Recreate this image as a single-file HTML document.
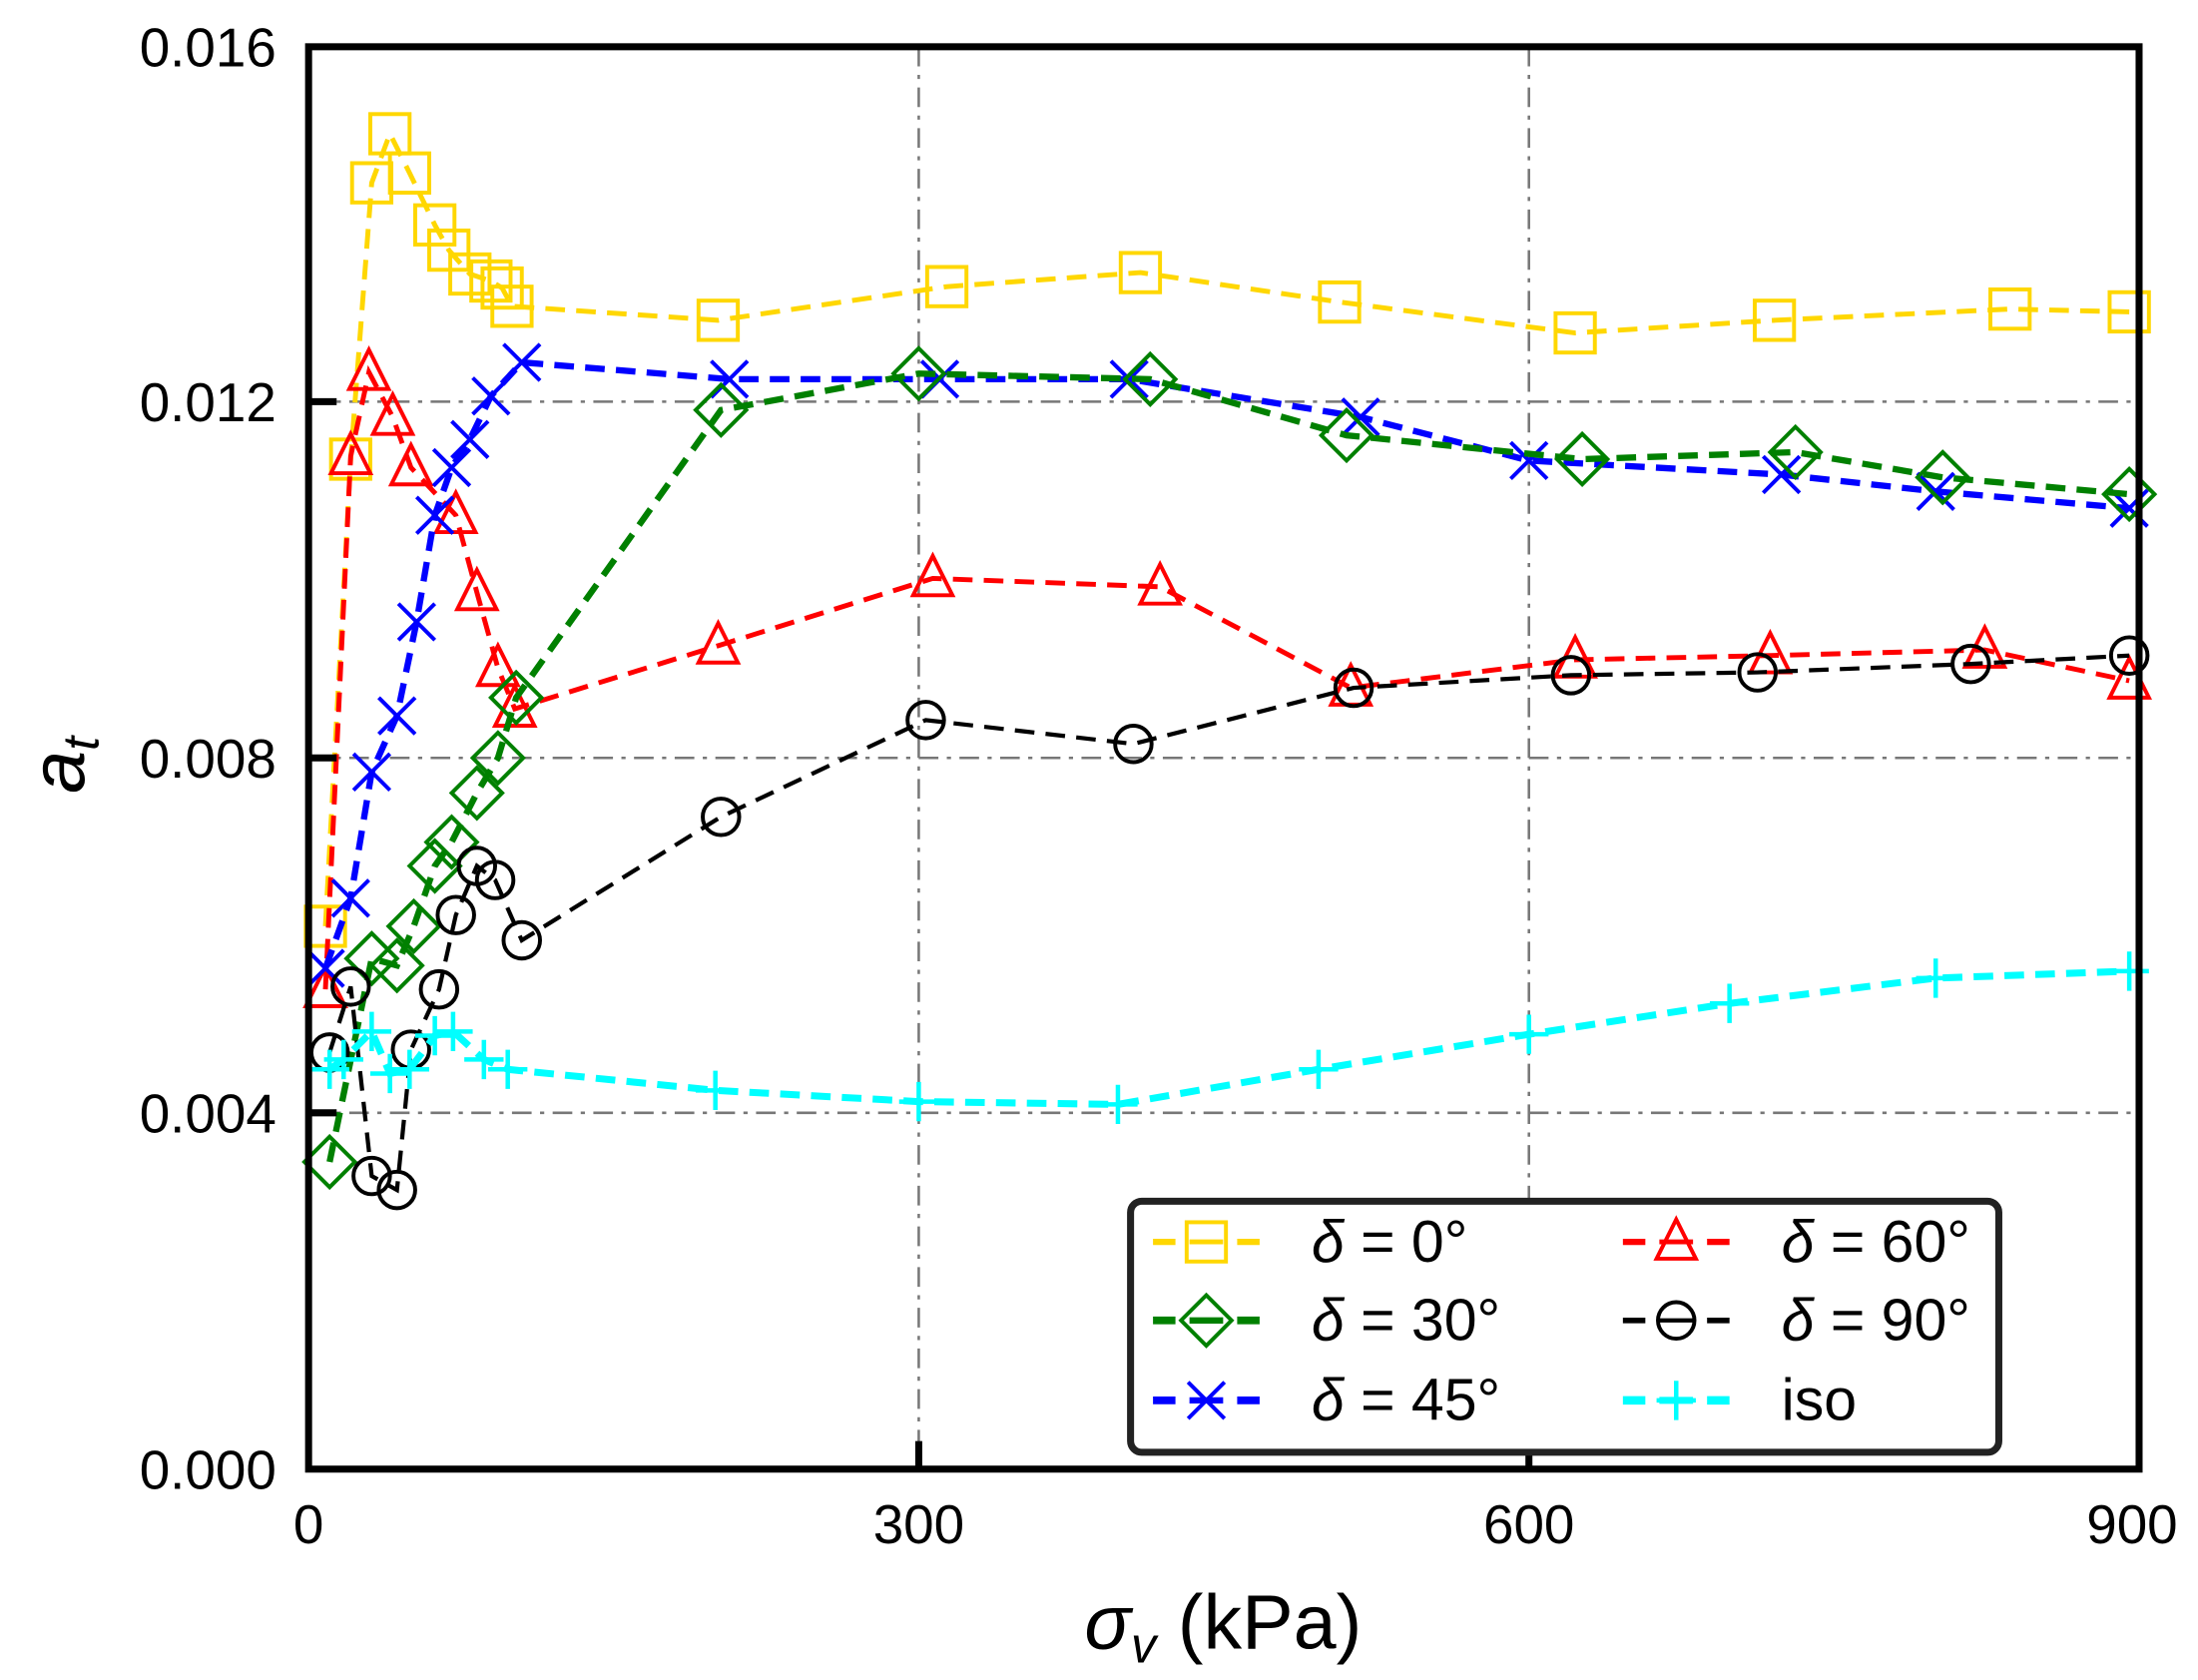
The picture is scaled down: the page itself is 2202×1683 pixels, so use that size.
<!DOCTYPE html>
<html><head><meta charset="utf-8"><style>
html,body{margin:0;padding:0;background:#fff;}
svg{display:block}
text{font-family:"Liberation Sans","DejaVu Sans",sans-serif;}
</style></head><body>
<svg id="s" width="2202" height="1683" viewBox="0 0 1567 1197" xmlns="http://www.w3.org/2000/svg">
<rect width="1567" height="1197" fill="#fff"/>
<g stroke="#777" stroke-width="1.8" stroke-dasharray="14,6,3,6" fill="none">
<line x1="220" y1="793" x2="1525" y2="793"/>
<line x1="220" y1="540" x2="1525" y2="540"/>
<line x1="220" y1="286" x2="1525" y2="286"/>
<line x1="655" y1="33" x2="655" y2="1047"/>
<line x1="1090" y1="33" x2="1090" y2="1047"/>
</g>
<g id="series"></g>
<rect x="220" y="33" width="1305" height="1014" fill="none" stroke="#000" stroke-width="5"/>
<g stroke="#000" stroke-width="5">
<line x1="220" y1="793" x2="240" y2="793"/><line x1="220" y1="540" x2="240" y2="540"/><line x1="220" y1="286" x2="240" y2="286"/>
<line x1="655" y1="1047" x2="655" y2="1027"/><line x1="1090" y1="1047" x2="1090" y2="1027"/>
</g>
<g font-size="39" fill="#000" text-anchor="end">
<text x="197" y="47">0.016</text>
<text x="197" y="300">0.012</text>
<text x="197" y="554">0.008</text>
<text x="197" y="807">0.004</text>
<text x="197" y="1061">0.000</text>
</g>
<g font-size="39" fill="#000" text-anchor="middle">
<text x="220" y="1100">0</text>
<text x="655" y="1100">300</text>
<text x="1090" y="1100">600</text>
<text x="1520" y="1100">900</text>
</g>
<text x="872" y="1175" font-size="55" text-anchor="middle"><tspan font-style="italic">σ</tspan><tspan font-style="italic" font-size="36" dy="10">v</tspan><tspan dy="-10"> (kPa)</tspan></text>
<text transform="translate(60,545) rotate(-90)" font-size="55" text-anchor="middle"><tspan font-style="italic">a</tspan><tspan font-style="italic" font-size="36" dy="10">t</tspan></text>
<rect x="806" y="856" width="619" height="179" rx="8" fill="#fff" stroke="#222" stroke-width="5"/>
<g id="leg"></g>
<g font-size="42" fill="#000">
<text x="935" y="899"><tspan font-style="italic">δ</tspan> = 0°</text>
<text x="935" y="955"><tspan font-style="italic">δ</tspan> = 30°</text>
<text x="935" y="1012"><tspan font-style="italic">δ</tspan> = 45°</text>
<text x="1270" y="899"><tspan font-style="italic">δ</tspan> = 60°</text>
<text x="1270" y="955"><tspan font-style="italic">δ</tspan> = 90°</text>
<text x="1270" y="1012">iso</text>
</g>
</svg>
<script>
var NS="http://www.w3.org/2000/svg";
function el(p,t,a){var e=document.createElementNS(NS,t);for(var k in a)e.setAttribute(k,a[k]);p.appendChild(e);return e;}
var S=[
{c:"#FFD700",w:3.5,m:"sq",p:[[232,660],[250,327],[265,130],[278,95],[292,123],[310,160],[320,178],[335,195],[350,200],[358,205],[365,218],[512,228],[675,204],[813,194],[955,215],[1123,237],[1265,228],[1433,220],[1518,222]]},
{c:"#FF0000",w:3.5,m:"tri",p:[[232,705],[250,325],[263,265],[280,297],[293,333],[325,367],[340,422],[355,476],[367,505],[512,460],[665,412],[827,418],[963,490],[1123,470],[1262,467],[1415,463],[1518,485]]},
{c:"#0000FF",w:4.5,m:"x",p:[[232,690],[250,640],[265,550],[283,510],[297,443],[310,367],[322,333],[335,313],[350,282],[372,258],[520,270],[670,270],[805,270],[970,297],[1090,328],[1270,338],[1380,350],[1518,362]]},
{c:"#008000",w:4.5,m:"dia",p:[[235,828],[265,683],[283,688],[295,660],[310,617],[322,600],[340,565],[355,540],[368,497],[514,292],[655,266],[820,270],[960,310],[1128,327],[1280,322],[1385,340],[1518,352]]},
{c:"#000000",w:3,m:"circ",p:[[235,750],[250,703],[265,838],[283,848],[293,748],[313,705],[325,652],[340,617],[353,627],[372,670],[514,582],[660,513],[808,530],[965,490],[1120,481],[1253,479],[1405,473],[1518,467]]},
{c:"#00FFFF",w:5,m:"plus",p:[[235,762],[245,755],[265,735],[278,765],[292,762],[310,738],[323,735],[345,755],[362,762],[510,777],[655,785],[797,787],[940,762],[1090,737],[1233,715],[1380,697],[1518,692]]}
];
function mark(g,m,x,y,c){
 var a={fill:"none",stroke:c,"stroke-width":2.8};
 if(m=="sq"){a.x=x-14;a.y=y-14;a.width=28;a.height=28;el(g,"rect",a);}
 else if(m=="tri"){a.points=(x)+","+(y-16)+" "+(x+14)+","+(y+12)+" "+(x-14)+","+(y+12);el(g,"polygon",a);}
 else if(m=="dia"){a.points=x+","+(y-18)+" "+(x+18)+","+y+" "+x+","+(y+18)+" "+(x-18)+","+y;el(g,"polygon",a);}
 else if(m=="circ"){a.cx=x;a.cy=y;a.r=13;el(g,"circle",a);}
 else if(m=="x"){a.d="M"+(x-13)+","+(y-13)+"L"+(x+13)+","+(y+13)+"M"+(x+13)+","+(y-13)+"L"+(x-13)+","+(y+13);el(g,"path",a);}
 else if(m=="plus"){a["stroke-width"]=3.2;a.d="M"+(x-14)+","+y+"L"+(x+14)+","+y+"M"+x+","+(y-14)+"L"+x+","+(y+14);el(g,"path",a);}
}
var g=document.getElementById("series");
S.forEach(function(s){
 el(g,"polyline",{points:s.p.map(function(q){return q.join(",")}).join(" "),fill:"none",stroke:s.c,"stroke-width":s.w,"stroke-dasharray":"14,8"});
 s.p.forEach(function(q){mark(g,s.m,q[0],q[1],s.c);});
});
var L=document.getElementById("leg");
var pos=[[860,885,0],[860,941,3],[860,998,2],[1195,885,1],[1195,941,4],[1195,998,5]];
pos.forEach(function(p){var s=S[p[2]];
 el(L,"line",{x1:p[0]-38,y1:p[1],x2:p[0]-22,y2:p[1],stroke:s.c,"stroke-width":s.w+1});
 el(L,"line",{x1:p[0]+22,y1:p[1],x2:p[0]+38,y2:p[1],stroke:s.c,"stroke-width":s.w+1});
 el(L,"line",{x1:p[0]-12,y1:p[1],x2:p[0]+12,y2:p[1],stroke:s.c,"stroke-width":s.w});
 mark(L,s.m,p[0],p[1],s.c);});
</script>
</body></html>
